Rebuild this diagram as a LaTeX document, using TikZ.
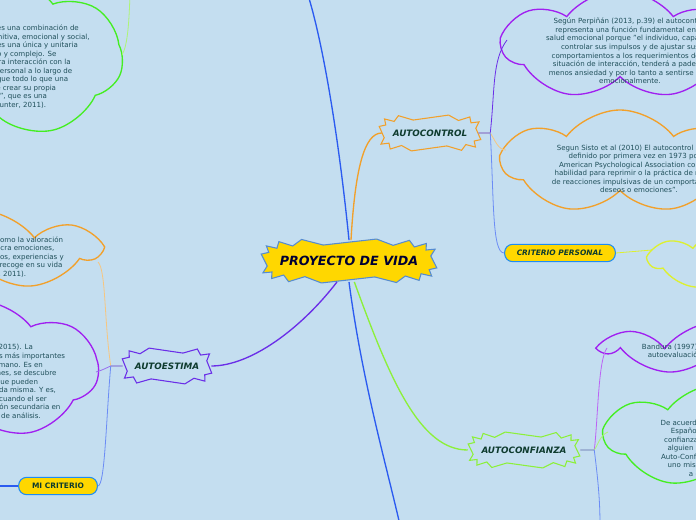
\documentclass[tikz,border=0pt]{standalone}
\usepackage{fontspec}
\setmainfont{DejaVu Sans}
\usetikzlibrary{shapes.symbols}
\definecolor{bg}{HTML}{C4DEF0}
\definecolor{txt}{HTML}{1F4F5A}
\definecolor{kw}{HTML}{0E3B2E}
\definecolor{gold}{HTML}{FFD700}
\definecolor{lblue}{HTML}{2B5BF0}
\definecolor{lpurp}{HTML}{6A2EE8}
\definecolor{lgreen}{HTML}{8CF03A}
\definecolor{lorange}{HTML}{F2A02A}
\definecolor{cpurp}{HTML}{A020F0}
\definecolor{cgreen}{HTML}{44EE22}
\definecolor{cyel}{HTML}{DDF030}
\newcommand\zigzag[7]{% cx cy a b h N style
  \draw[#7] plot[samples at={0,...,\numexpr#6-1\relax}, variable=\k]
   ({#1 + (#3 - mod(\k,2)*#5)*sign(cos((\k+0.5)*360/#6))*pow(abs(cos((\k+0.5)*360/#6)),0.5)},
    {#2 + (#4 - mod(\k,2)*#5)*sign(sin((\k+0.5)*360/#6))*pow(abs(sin((\k+0.5)*360/#6)),0.5)}) -- cycle;}
\tikzset{
  cloudbox/.style={cloud, cloud puffs=7, cloud puff arc=105, cloud ignores aspect, draw, line width=1pt, inner sep=0pt},
  ctext/.style={text=txt, align=center, font=\fontsize{5.3}{6.4}\selectfont},
  kwtext/.style={font=\bfseries\itshape\fontsize{6.6}{8}\selectfont, text=kw, inner sep=0pt},
  pill/.style={draw=lblue!70!cyan, fill=gold, rounded corners=6pt, line width=0.8pt, font=\bfseries\itshape\fontsize{5.6}{7}\selectfont, text=kw, inner sep=0pt},
  conn/.style={line width=1pt},
  thin/.style={line width=0.6pt}
}
\begin{document}
\begin{tikzpicture}[x=0.75pt,y=-0.75pt]
\useasboundingbox[fill=bg] (0,0) rectangle (696,520);
% clouds
\node[cloudbox, draw=cgreen, minimum width=184pt, minimum height=120pt] (ctl) at (0,58) {};
\node[cloudbox, draw=cpurp, minimum width=176pt, minimum height=82pt] (ctr) at (620,45) {};
\node[cloudbox, draw=lorange, minimum width=176pt, minimum height=78pt] (cro) at (620,162) {};
\node[cloudbox, draw=cyel, minimum width=120pt, minimum height=45pt] (cry) at (730,260) {};
\node[cloudbox, draw=lorange, minimum width=180pt, minimum height=60pt] (clo) at (-22,250) {};
\node[cloudbox, draw=cpurp, minimum width=180pt, minimum height=104pt] (clp) at (-22,370) {};
\node[cloudbox, draw=cpurp, minimum width=172pt, minimum height=40pt] (cbp) at (720,348) {};
\node[cloudbox, draw=cgreen, minimum width=172pt, minimum height=78pt] (cbg) at (720,436) {};
% cloud texts
\node[ctext] (ttl) at (-15,67) {Para Hunter, el autoconcepto es una combinación de\\ características de naturaleza cognitiva, emocional y social,\\ por lo tanto, el autoconcepto es una única y unitaria\\ estructura de significado y complejo. Se\\ construye a través de nuestra interacción con la\\ sociedad y de nuestra vida personal a lo largo de\\ nuestra existencia, siendo que todo lo que una\\ persona aprende, puede crear su propia\\ imagen del "sí mismo", que es una\\ especie de otro yo (Hunter, 2011).};
\node[ctext] (ttr) at (630,51) {Según Perpiñán (2013, p.39) el autocontrol\\ representa una función fundamental en la\\ salud emocional porque "el individuo, capaz de\\ controlar sus impulsos y de ajustar sus\\ comportamientos a los requerimientos de la\\ situación de interacción, tenderá a padecer\\ menos ansiedad y por lo tanto a sentirse bien\\ emocionalmente.};
\node[ctext] (tro) at (639,169) {Segun Sisto et al (2010) El autocontrol ha sido\\ definido por primera vez en 1973 por la\\ American Psychological Association como "la\\ habilidad para reprimir o la práctica de reprimir\\ de reacciones impulsivas de un comportamiento,\\ deseos o emociones".};
\node[ctext] (tlo) at (-14,257) {La autoestima se define como la valoración\\ de uno mismo, e involucra emociones,\\ pensamientos, sentimientos, experiencias y\\ actitudes que la persona recoge en su vida\\ (Trigo y Ortega, 2011).};
\node[ctext] (tlp) at (-22,382) {Según Zarate, O. M. (2015). La\\ autoestima es una de las bases más importantes\\ del desarrollo del ser humano. Es en\\ el transcurso de sus relaciones, se descubre\\ una serie de cambios que pueden\\ afectar a la persona en la vida misma. Y es,\\ en esta etapa de la vida, cuando el ser\\ humano tiene una participación secundaria en\\ la toma de decisiones y de análisis.};
\node[ctext] (tbp) at (724,356) {Bandura (1997) define la autoeficacia como la\\ autoevaluación de las capacidades propias\\ que uno tiene};
\node[ctext] (tbg) at (720,448) {De acuerdo con la Real Academia\\ Española, se define la auto-\\ confianza: "Esperanza firme en\\ alguien o algo". Se denomina\\ Auto-Confianza a la seguridad en\\ uno mismo, para poder llevar\\ a cabo una tarea.};
% star shapes
\zigzag{349}{261}{88}{22}{6}{32}{fill=gold, draw=cyan!50!blue!70, line width=0.8pt}
\zigzag{430}{133}{51}{18}{5}{24}{draw=lorange, line width=0.8pt}
\zigzag{167}{366}{45}{18}{5}{20}{draw=lpurp, line width=0.8pt}
\zigzag{524}{450}{56}{18}{5}{28}{draw=lgreen, line width=0.8pt}
% main nodes
\node[inner sep=0pt, minimum width=131pt, minimum height=31pt, font=\bfseries\itshape\fontsize{9.5}{11}\selectfont, text=blue!20!black] (c) at (349,261) {PROYECTO DE VIDA};
\node[kwtext, minimum width=72pt, minimum height=20pt] (ac) at (430,133) {AUTOCONTROL};
\node[kwtext, minimum width=66pt, minimum height=20pt] (ae) at (167,366) {AUTOESTIMA};
\node[kwtext, minimum width=84pt, minimum height=20pt] (acf) at (524,450) {AUTOCONFIANZA};
\node[pill, minimum width=83pt, minimum height=13pt] (cp) at (560,253) {CRITERIO PERSONAL};
\node[pill, minimum width=59pt, minimum height=13pt, font=\bfseries\fontsize{5.6}{7}\selectfont] (mc) at (58,486) {MI CRITERIO};
% free ends
\coordinate (top) at (308,-5);
\coordinate (bot) at (400,525);
\coordinate (tlt) at (130,-5);
\coordinate (mcl) at (-5,486);
\coordinate (acfb) at (600,525);
% main connectors
\draw[conn, lblue] (c.north) .. controls (338,130) and (322,40) .. (top);
\draw[conn, lblue] (c.south) .. controls (362,380) and (385,460) .. (bot);
\draw[conn, lorange] ([xshift=1.5pt]c.north) .. controls (355,170) and (364,133) .. (ac.west);
\draw[conn, lpurp] ([xshift=-9pt]c.south) .. controls (300,330) and (250,366) .. (ae.east);
\draw[conn, lgreen] ([xshift=4pt]c.south) .. controls (390,380) and (420,450) .. (acf.west);
% sub connectors
\draw[thin, lpurp] (ac.east) -- ++(12,0) .. controls (495,90) and (492,60) .. (507,40);
\draw[thin, lorange!60] (ac.east) -- ++(12,0) .. controls (495,140) and (498,150) .. (506,150);
\draw[thin, lblue!70] (ac.east) -- ++(12,0) .. controls (494,200) and (492,253) .. (cp.west);
\draw[thin, cyel] (cp.east) -- (652,250);
\draw[thin, lorange!60] (ae.west) -- ++(-12,0) .. controls (104,320) and (106,270) .. (98,262);
\draw[thin, lpurp!70] (ae.west) -- ++(-12,0) .. controls (106,368) and (103,370) .. (96,372);
\draw[thin, lblue!70] (ae.west) -- ++(-12,0) .. controls (106,420) and (105,486) .. (mc.east);
\draw[conn, lblue] (mc.west) -- (mcl);
\draw[thin, lgreen!70] (tlt) .. controls (129,20) and (128,45) .. (122,55);
\draw[thin, cpurp!70] (acf.east) -- ++(14,0) .. controls (598,420) and (598,360) .. (607,348);
\draw[thin, lgreen!70] (acf.east) -- ++(14,0) .. controls (598,445) and (600,435) .. (608,432);
\draw[thin, lblue!70] (acf.east) -- ++(14,0) .. controls (598,480) and (600,500) .. (acfb);
\end{tikzpicture}
\end{document}
